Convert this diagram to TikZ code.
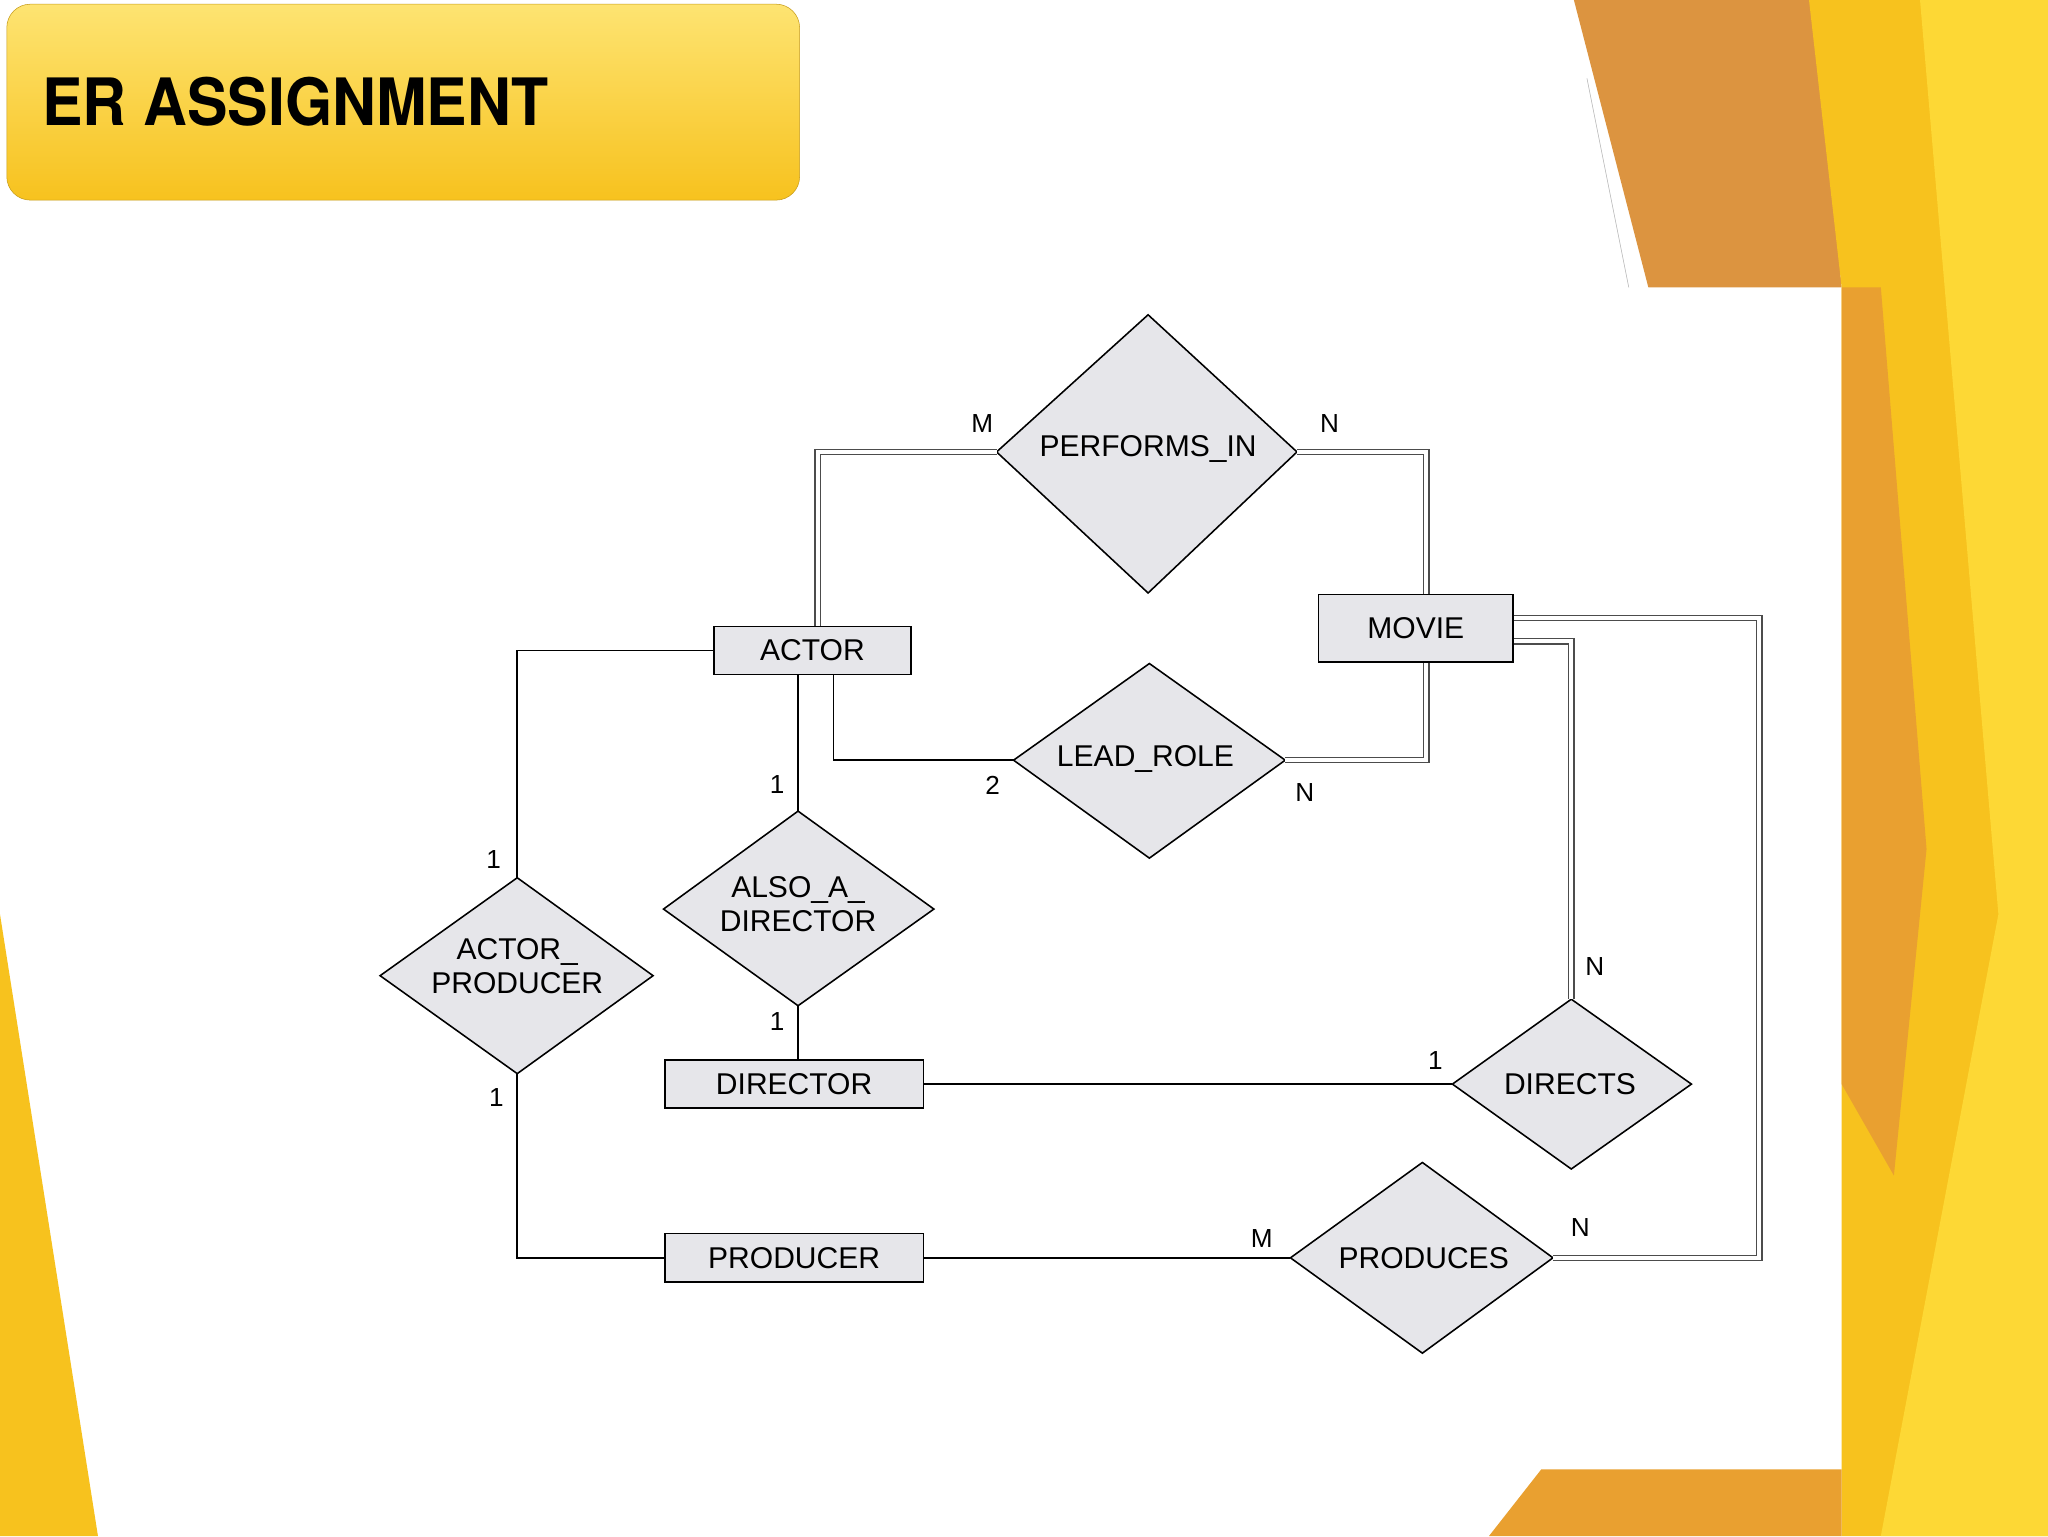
\documentclass[tikz,border=0pt]{standalone}
\usepackage{fontspec}
\setmainfont{Liberation Sans}
\newfontfamily\titlefont{TeX Gyre Heros}
\begin{document}
\begin{tikzpicture}[x=1pt,y=-1pt,
  ent/.style={draw=black,line width=1.2pt,fill=boxgray,minimum width=#1,minimum height=37pt,inner sep=0pt,font=\fontsize{23}{26}\selectfont},
  lbl/.style={font=\fontsize{23}{26}\selectfont,align=center,inner sep=0pt},
  card/.style={font=\fontsize{20}{22}\selectfont,inner sep=0pt},
  dia/.style={draw=black,line width=1.2pt,fill=boxgray},
  sl/.style={draw=black,line width=1.2pt},
  dl/.style={draw=black!70,line width=1pt,double=white,double distance=3pt}]
\definecolor{boxgray}{HTML}{E6E6EA}
\definecolor{yel}{HTML}{F7C21E}
\definecolor{yel2}{HTML}{FDD835}
\definecolor{org}{HTML}{DC9440}
\definecolor{org2}{HTML}{E9A030}
\useasboundingbox (0,0) rectangle (1568,1176);
\fill[white] (0,0) rectangle (1568,1176);
% background decoration
\fill[org] (1205,0) -- (1390,0) -- (1410,220) -- (1262,220) -- cycle;
\fill[yel] (1385,0) -- (1568,0) -- (1568,1176) -- (1410,1176) -- (1410,220) -- cycle;
\fill[yel2] (1470,0) -- (1568,0) -- (1568,1176) -- (1440,1176) -- (1530,700) -- cycle;
\fill[org2] (1410,220) -- (1440,220) -- (1475,650) -- (1450,900) -- (1410,830) -- cycle;
\fill[org2] (1140,1176) -- (1180,1125) -- (1410,1125) -- (1410,1176) -- cycle;
\fill[yel] (0,700) -- (75,1176) -- (0,1176) -- cycle;
\draw[gray!60] (1215,60) -- (1247,220);
% title
\node[draw=yel!80!black,rounded corners=18pt,top color=yel2!70!white,bottom color=yel,minimum width=607pt,minimum height=150pt,anchor=north west] (titlebox) at (5,3) {};
\node[anchor=west,font=\titlefont\bfseries\fontsize{50}{54}\selectfont,inner sep=0pt,xscale=0.93] (title) at (32,78) {ER ASSIGNMENT};
% entities
\node[ent=151pt] (actor) at (622,498) {ACTOR};
\node[ent=149pt,minimum height=52pt] (movie) at (1084,481) {MOVIE};
\node[ent=198pt] (director) at (608,830) {DIRECTOR};
\node[ent=198pt] (producer) at (608,963) {PRODUCER};
% diamonds
\draw[dia] (763,346) coordinate (piL) -- (879,241) -- (993,346) coordinate (piR) -- (879,454) -- cycle;
\node[lbl] (pi) at (879,344) {PERFORMS\_IN};
\draw[dia] (776,582) coordinate (lrL) -- (880,508) -- (984,582) coordinate (lrR) -- (880,657) -- cycle;
\node[lbl] (lr) at (877,581) {LEAD\_ROLE};
\draw[dia] (508,696) -- (611,621) coordinate (adT) -- (715,696) -- (611,770) coordinate (adB) -- cycle;
\node[lbl,align=center] (ad) at (611,692) {ALSO\_A\_\\DIRECTOR};
\draw[dia] (291,747) -- (396,672) coordinate (apT) -- (500,747) -- (396,822) coordinate (apB) -- cycle;
\node[lbl] (ap) at (396,740) {ACTOR\_\\PRODUCER};
\draw[dia] (1112,830) coordinate (dL) -- (1203,765) coordinate (dT) -- (1295,830) -- (1203,895) -- cycle;
\node[lbl] (dr) at (1202,830) {DIRECTS};
\draw[dia] (988,963) coordinate (pL) -- (1089,890) -- (1189,963) coordinate (pR) -- (1089,1036) -- cycle;
\node[lbl] (pr) at (1090,963) {PRODUCES};
% connectors
\draw[dl] (actor.north -| 626,0) |- (piL);
\draw[dl] (piR) -| (movie.north -| 1092,0);
\draw[sl] (actor.south -| 638,0) |- (lrL);
\draw[dl] (lrR) -| (movie.south -| 1092,0);
\draw[dl] (movie.east |- 0,491) -| (dT);
\draw[dl] (movie.east |- 0,473) -| (1347,700) |- (pR);
\draw[sl] (actor.south -| adT) -- (adT);
\draw[sl] (adB) -- (director.north -| adB);
\draw[sl] (actor.west) -| (apT);
\draw[sl] (apB) |- (producer.west);
\draw[sl] (director.east) -- (dL);
\draw[sl] (producer.east) -- (pL);
% cardinalities
\node[card] (c1) at (752,324) {M};
\node[card] (c2) at (1018,324) {N};
\node[card] (c3) at (760,601) {2};
\node[card] (c4) at (999,607) {N};
\node[card] (c5) at (595,601) {1};
\node[card] (c6) at (595,782) {1};
\node[card] (c7) at (378,658) {1};
\node[card] (c8) at (380,840) {1};
\node[card] (c9) at (1221,740) {N};
\node[card] (c10) at (1099,812) {1};
\node[card] (c11) at (966,948) {M};
\node[card] (c12) at (1210,940) {N};
\end{tikzpicture}
\end{document}
